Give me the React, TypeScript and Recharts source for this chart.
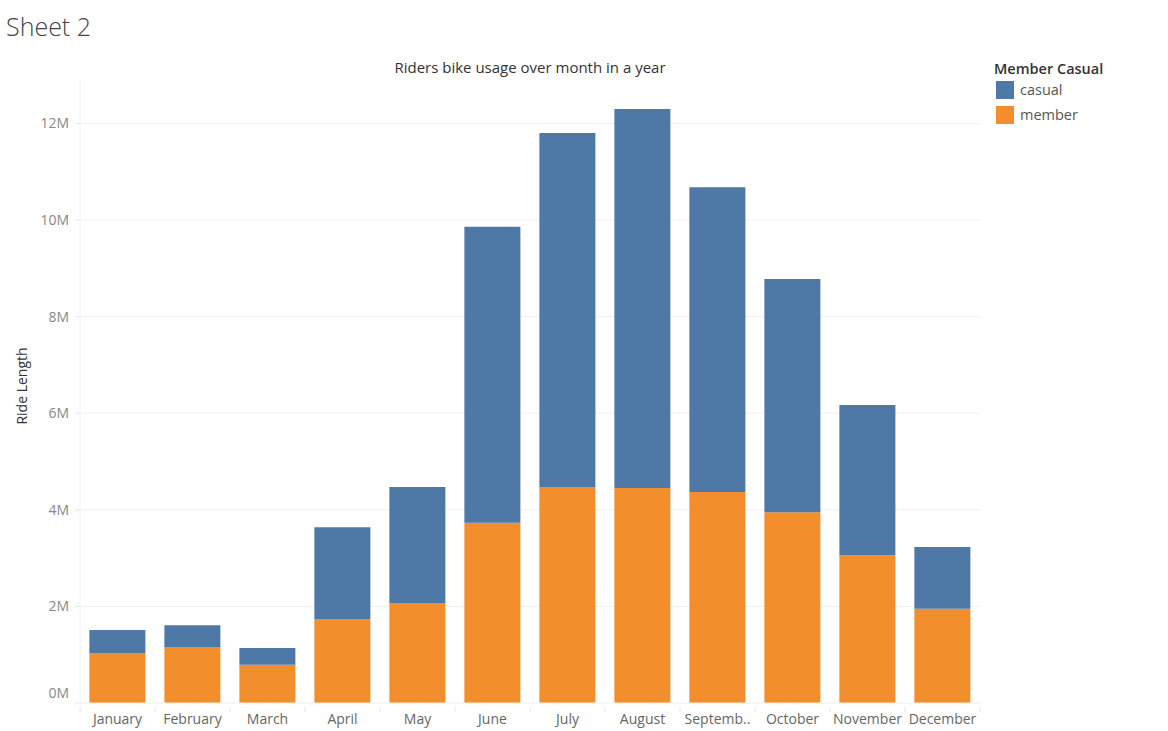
import { BarChart, Bar, XAxis, YAxis, CartesianGrid } from 'recharts';

const months = [
  'January', 'February', 'March', 'April', 'May', 'June',
  'July', 'August', 'Septemb..', 'October', 'November', 'December',
];
const memberRides = [
  1035000, 1160000, 790000, 1740000, 2070000, 3730000,
  4470000, 4450000, 4370000, 3950000, 3060000, 1950000,
];
const casualRides = [
  475000, 450000, 350000, 1900000, 2400000, 6130000,
  7330000, 7850000, 6310000, 4830000, 3110000, 1280000,
];
const yTicks = [0, 2000000, 4000000, 6000000, 8000000, 10000000, 12000000];

const data = months.map((month, i) => ({
  month,
  member: memberRides[i],
  casual: casualRides[i],
}));

const FONT = "'Open Sans', 'Noto Sans', sans-serif";
const BAND = 75;

function MonthTick(props: any) {
  const { x, y, payload, index } = props;
  return (
    <g>
      <line x1={x - BAND / 2} x2={x - BAND / 2} y1={y - 4} y2={y + 1} stroke="#e6e6e6" />
      {index === months.length - 1 && (
        <line x1={x + BAND / 2} x2={x + BAND / 2} y1={y - 4} y2={y + 1} stroke="#e6e6e6" />
      )}
      <text x={x} y={y + 13} textAnchor="middle" fill="#666" fontSize={14} fontFamily={FONT}>
        {payload.value}
      </text>
    </g>
  );
}

function ValueTick(props: any) {
  const { x, y, payload } = props;
  const shift = payload.value === 0 ? -10 : 0;
  return (
    <text x={x - 4} y={y + shift + 5} textAnchor="end" fill="#888" fontSize={14} fontFamily={FONT}>
      {payload.value / 1000000 + 'M'}
    </text>
  );
}

export default function App() {
  return (
    <div style={{ position: 'absolute', left: 0, top: 0, width: 1168, height: 731, background: '#fff', fontFamily: FONT }}>
      <div style={{ position: 'absolute', left: 6, top: 9, fontSize: 25, fontWeight: 300, color: '#444' }}>
        Sheet 2
      </div>
      <div style={{ position: 'absolute', left: 80, width: 900, top: 57, textAlign: 'center', fontSize: 15, color: '#333' }}>
        Riders bike usage over month in a year
      </div>
      <div
        style={{
          position: 'absolute', left: 21, top: 386, fontSize: 14, color: '#333',
          transform: 'translate(-50%, -50%) rotate(-90deg)', whiteSpace: 'nowrap',
        }}
      >
        Ride Length
      </div>
      <div style={{ position: 'absolute', left: 994, top: 59, fontSize: 14.5, color: '#333', fontWeight: 600 }}>
        Member Casual
      </div>
      <div style={{ position: 'absolute', left: 996, top: 81, width: 18, height: 18, background: '#4e79a7' }} />
      <div style={{ position: 'absolute', left: 1020, top: 80, fontSize: 14.5, color: '#555' }}>casual</div>
      <div style={{ position: 'absolute', left: 996, top: 106, width: 18, height: 18, background: '#f28e2b' }} />
      <div style={{ position: 'absolute', left: 1020, top: 105, fontSize: 14.5, color: '#555' }}>member</div>

      <div style={{ position: 'absolute', left: 0, top: 0 }}>
        <BarChart
          width={1000}
          height={731}
          data={data}
          margin={{ top: 80, right: 20, left: 10, bottom: 0 }}
          barCategoryGap="12.5%"
        >
          <CartesianGrid vertical={false} stroke="#f0f0f0" horizontalValues={yTicks.slice(1)} />
          <XAxis
            dataKey="month"
            height={28}
            interval={0}
            axisLine={{ stroke: '#eeeeee' }}
            tickLine={false}
            tick={<MonthTick />}
          />
          <YAxis
            width={70}
            domain={[0, 12900000]}
            ticks={yTicks}
            axisLine={{ stroke: '#f0f0f0' }}
            tickLine={{ stroke: '#e6e6e6' }}
            tickSize={5}
            tick={<ValueTick />}
          />
          <Bar dataKey="member" stackId="a" fill="#f28e2b" isAnimationActive={false} />
          <Bar dataKey="casual" stackId="a" fill="#4e79a7" isAnimationActive={false} />
        </BarChart>
      </div>
    </div>
  );
}
